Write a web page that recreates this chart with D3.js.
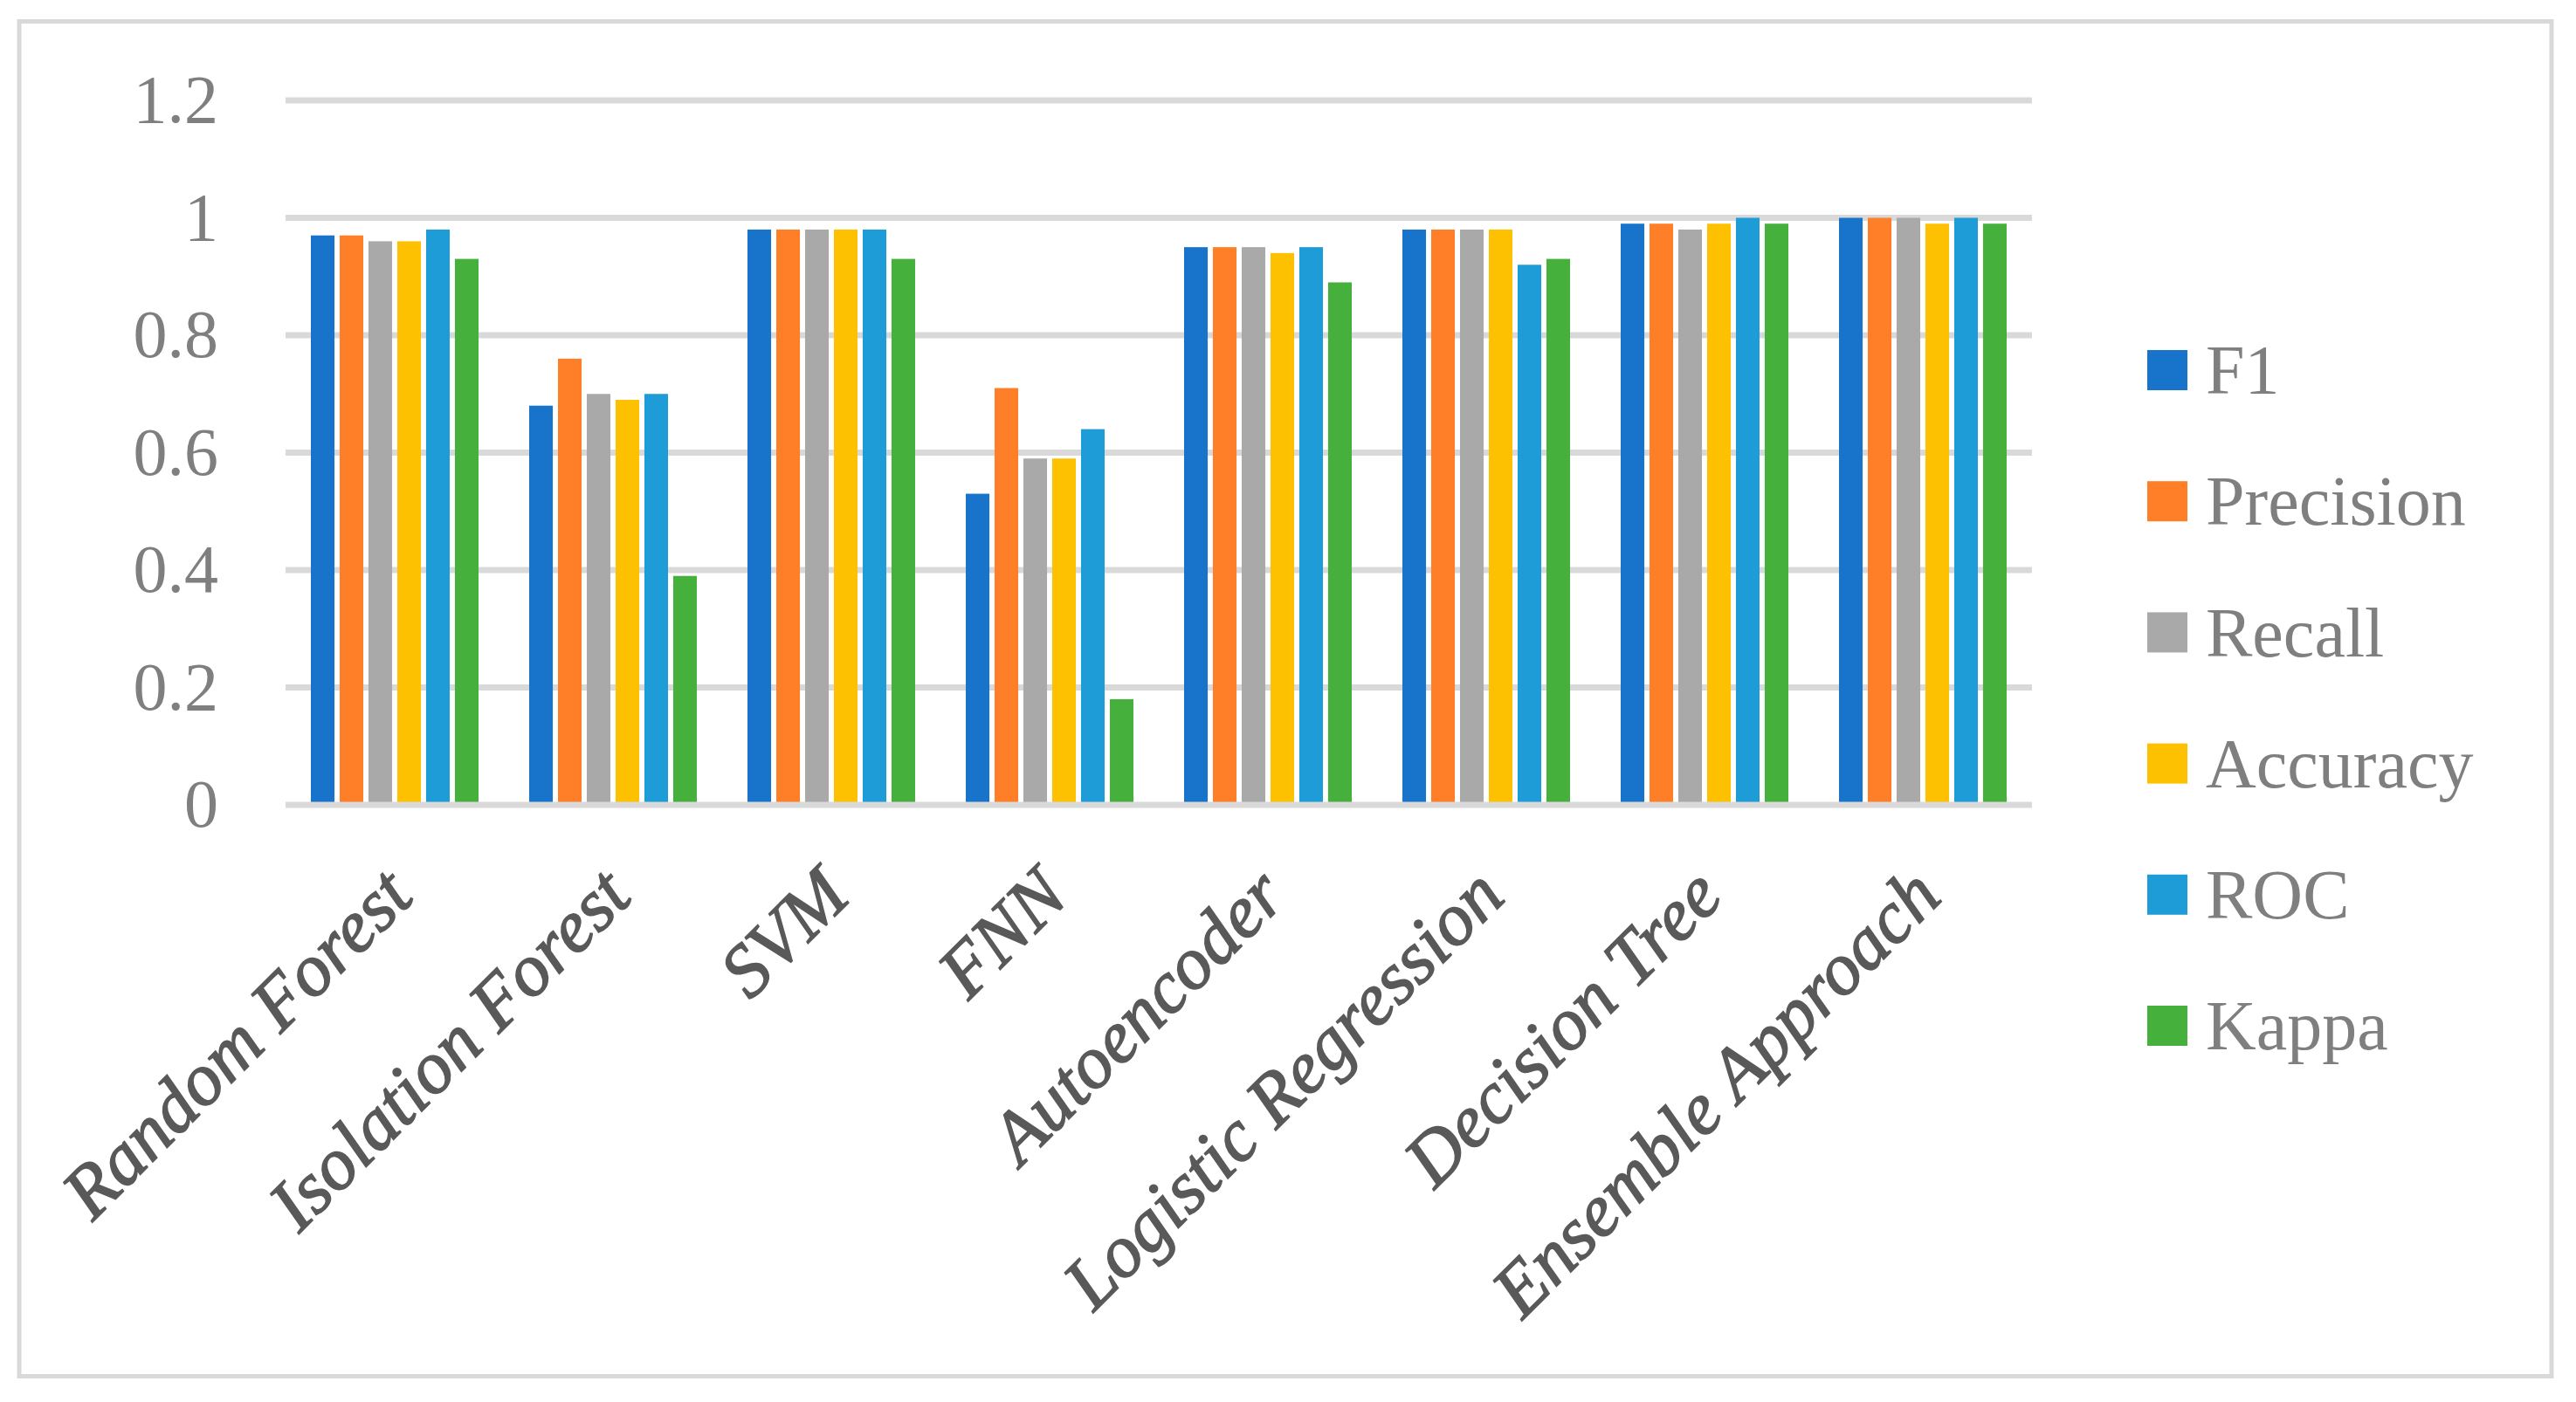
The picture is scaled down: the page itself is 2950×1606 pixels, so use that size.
<!DOCTYPE html>
<html>
<head>
<meta charset="utf-8">
<script src="https://cdn.jsdelivr.net/npm/d3@7"></script>
<style>
  html, body { margin: 0; padding: 0; background: #ffffff; }
  svg { display: block; }
</style>
</head>
<body>
<svg id="chart" width="2950" height="1606"></svg>
<script>
// ---- data ----
const categories = ["Random Forest", "Isolation Forest", "SVM", "FNN", "Autoencoder",
                    "Logistic Regression", "Decision Tree", "Ensemble Approach"];
const seriesNames = ["F1", "Precision", "Recall", "Accuracy", "ROC", "Kappa"];
const f1        = [0.97, 0.68, 0.98, 0.53, 0.95, 0.98, 0.99, 1.00];
const precision = [0.97, 0.76, 0.98, 0.71, 0.95, 0.98, 0.99, 1.00];
const recall    = [0.96, 0.70, 0.98, 0.59, 0.95, 0.98, 0.98, 1.00];
const accuracy  = [0.96, 0.69, 0.98, 0.59, 0.94, 0.98, 0.99, 0.99];
const roc       = [0.98, 0.70, 0.98, 0.64, 0.95, 0.92, 1.00, 1.00];
const kappa     = [0.93, 0.39, 0.93, 0.18, 0.89, 0.93, 0.99, 0.99];
const yTicks    = [0, 0.2, 0.4, 0.6, 0.8, 1, 1.2];
const colors    = ["#1874cb", "#fe7f27", "#a9a9a9", "#fec102", "#1d9cd8", "#45b03b"];

const seriesValues = [f1, precision, recall, accuracy, roc, kappa];

// ---- layout ----
const svg = d3.select("#chart");
const plotLeft = 327, plotRight = 2327, plotTop = 115, plotBottom = 922;

const x0 = d3.scaleBand().domain(categories).range([plotLeft, plotRight])
  .paddingInner(0.232).paddingOuter(0.116);
const x1 = d3.scaleBand().domain(seriesNames).range([0, x0.bandwidth()])
  .paddingInner(0.18).paddingOuter(0);
const y = d3.scaleLinear().domain([0, 1.2]).range([plotBottom, plotTop]);
const color = d3.scaleOrdinal().domain(seriesNames).range(colors);

// outer border
svg.append("rect")
  .attr("x", 22).attr("y", 24.5).attr("width", 2900).attr("height", 1552)
  .attr("fill", "#ffffff").attr("stroke", "#d9d9d9").attr("stroke-width", 5);

// gridlines
svg.append("g").selectAll("line")
  .data(yTicks.filter(d => d !== 0))
  .join("line")
  .attr("x1", plotLeft).attr("x2", plotRight)
  .attr("y1", d => y(d)).attr("y2", d => y(d))
  .attr("stroke", "#d9d9d9").attr("stroke-width", 7);

// bars
const groups = svg.append("g").selectAll("g")
  .data(categories)
  .join("g")
  .attr("transform", d => `translate(${x0(d)},0)`);

groups.selectAll("rect")
  .data((c, i) => seriesNames.map((s, j) => ({ s, v: seriesValues[j][i] })))
  .join("rect")
  .attr("x", d => x1(d.s))
  .attr("width", x1.bandwidth())
  .attr("y", d => y(d.v))
  .attr("height", d => y(0) - y(d.v))
  .attr("fill", d => color(d.s));

// zero axis line
svg.append("line")
  .attr("x1", plotLeft).attr("x2", plotRight)
  .attr("y1", y(0)).attr("y2", y(0))
  .attr("stroke", "#d9d9d9").attr("stroke-width", 7);

// y axis labels
const yAxis = d3.axisLeft(y).tickValues(yTicks).tickSize(0).tickPadding(0)
  .tickFormat(d => d3.format("")(d));
const yg = svg.append("g").attr("transform", `translate(${250},0)`).call(yAxis);
yg.select(".domain").remove();
yg.selectAll("text")
  .attr("font-family", "'Liberation Serif', serif")
  .attr("font-size", 78)
  .attr("fill", "#7f7f7f")
  .attr("dy", "0.32em");

// x axis labels (rotated)
const xAxis = d3.axisBottom(x0).tickSize(0).tickPadding(0);
const xg = svg.append("g").attr("transform", `translate(0,${plotBottom})`).call(xAxis);
xg.select(".domain").remove();
xg.selectAll(".tick text")
  .attr("font-family", "'Liberation Serif', serif")
  .attr("font-style", "italic")
  .attr("font-size", 85)
  .attr("fill", "#595959")
  .attr("stroke", "#595959")
  .attr("stroke-width", 1.6)
  .attr("text-anchor", "end")
  .attr("dy", "0")
  .attr("y", 0)
  .attr("transform", "translate(24,108) rotate(-45)");

// legend
const legend = svg.append("g").selectAll("g")
  .data(seriesNames)
  .join("g")
  .attr("transform", (d, i) => `translate(2459,${424 + i * 150.2})`);
legend.append("rect")
  .attr("x", 0).attr("y", -23).attr("width", 46).attr("height", 46)
  .attr("fill", d => color(d));
legend.append("text")
  .attr("x", 67).attr("y", 0).attr("dy", "0.34em")
  .attr("font-family", "'Liberation Serif', serif")
  .attr("font-size", 80)
  .attr("fill", "#7f7f7f")
  .text(d => d);
</script>
</body>
</html>
